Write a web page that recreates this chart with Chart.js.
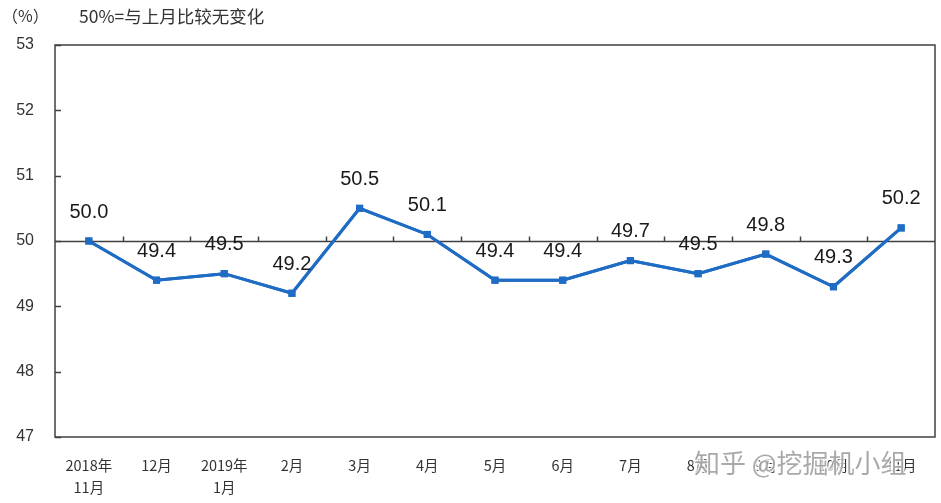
<!DOCTYPE html>
<html>
<head>
<meta charset="utf-8">
<script src="https://cdn.jsdelivr.net/npm/chart.js@4/dist/chart.umd.min.js"></script>
<style>
  html, body { margin: 0; padding: 0; background: #fff; }
</style>
</head>
<body>
<canvas id="pmiChart" width="941" height="503"></canvas>
<script>
// month labels, 2018-11 .. 2019-11
const monthLabels = [['2018年', '11月'], '12月', ['2019年', '1月'], '2月', '3月', '4月', '5月', '6月', '7月', '8月', '9月', '10月', '11月'];
const indexValues = [50.0, 49.4, 49.5, 49.2, 50.5, 50.1, 49.4, 49.4, 49.7, 49.5, 49.8, 49.3, 50.2];
const yMin = 47;
const yMax = 53;
const baseLine = 50;

const unitText = '（%）';
const noteText = '50%=与上月比较无变化';
const watermarkText = '知乎 @挖掘机小组';

const lineBlue = '#1f6cc4';
const axisGray = '#404040';

const decorPlugin = {
  id: 'decor',
  afterDatasetsDraw(chart) {
    const { ctx, chartArea, scales } = chart;
    const x = scales.x, y = scales.y;
    ctx.save();

    // plot frame
    ctx.strokeStyle = axisGray;
    ctx.lineWidth = 1.5;
    ctx.strokeRect(chartArea.left, chartArea.top, chartArea.right - chartArea.left, chartArea.bottom - chartArea.top);

    // y ticks pointing inward
    for (let v = yMin; v <= yMax; v++) {
      const py = Math.round(y.getPixelForValue(v)) + 0.5;
      ctx.beginPath();
      ctx.moveTo(chartArea.left, py);
      ctx.lineTo(chartArea.left + 6, py);
      ctx.stroke();
    }

    // 50 line with category ticks
    const by = Math.round(y.getPixelForValue(baseLine)) + 0.5;
    ctx.beginPath();
    ctx.moveTo(chartArea.left, by);
    ctx.lineTo(chartArea.right, by);
    ctx.stroke();
    const step = (chartArea.right - chartArea.left) / monthLabels.length;
    for (let i = 1; i < monthLabels.length; i++) {
      const px = Math.round(chartArea.left + step * i) + 0.5;
      ctx.beginPath();
      ctx.moveTo(px, by);
      ctx.lineTo(px, by - 5);
      ctx.stroke();
    }
    ctx.restore();

    // redraw line above the axis line
    chart.getDatasetMeta(0).controller.draw();

    // value labels
    ctx.save();
    ctx.font = '20px "Liberation Sans", Arial, sans-serif';
    ctx.fillStyle = '#1a1a1a';
    ctx.textAlign = 'center';
    ctx.textBaseline = 'middle';
    indexValues.forEach((v, i) => {
      const px = x.getPixelForValue(i);
      const py = y.getPixelForValue(v);
      ctx.fillText(v.toFixed(1), px, py - 29);
    });
    ctx.restore();

    // header texts
    ctx.save();
    ctx.fillStyle = '#333';
    ctx.textBaseline = 'middle';
    ctx.font = '16px "Noto Sans CJK SC", sans-serif';
    ctx.fillText(unitText, 2, 16);
    ctx.font = '17.5px "Noto Sans CJK SC", sans-serif';
    ctx.fillText(noteText, 79, 16);
    ctx.restore();

    // watermark
    ctx.save();
    ctx.font = '26px "Noto Sans CJK SC", sans-serif';
    ctx.textBaseline = 'middle';
    ctx.lineWidth = 3;
    ctx.strokeStyle = 'rgba(255,255,255,0.8)';
    ctx.strokeText(watermarkText, 694, 463);
    ctx.fillStyle = 'rgba(140,140,140,0.75)';
    ctx.fillText(watermarkText, 694, 463);
    ctx.restore();
  }
};

new Chart(document.getElementById('pmiChart'), {
  type: 'line',
  data: {
    labels: monthLabels,
    datasets: [{
      data: indexValues,
      borderColor: lineBlue,
      backgroundColor: lineBlue,
      borderWidth: 3,
      pointStyle: 'rect',
      pointRadius: 5,
      pointBorderWidth: 0,
      tension: 0
    }]
  },
  options: {
    responsive: false,
    animation: false,
    devicePixelRatio: 1,
    layout: { padding: { top: 45, right: 6, bottom: 0, left: 0 } },
    plugins: {
      legend: { display: false },
      tooltip: { enabled: false }
    },
    scales: {
      x: {
        offset: true,
        grid: { display: false, drawTicks: false },
        border: { display: false },
        afterFit(scale) { scale.height = 66; },
        ticks: {
          color: '#333',
          padding: 18,
          maxRotation: 0,
          autoSkip: false,
          font: { family: '"Noto Sans CJK SC", sans-serif', size: 14.5, lineHeight: 1.5 }
        }
      },
      y: {
        min: yMin,
        max: yMax,
        grid: { display: false, drawTicks: false },
        border: { display: false },
        afterFit(scale) { scale.width = 55; },
        ticks: {
          stepSize: 1,
          color: '#333',
          padding: 21,
          font: { family: '"Liberation Sans", Arial, sans-serif', size: 16 }
        }
      }
    }
  },
  plugins: [decorPlugin]
});
</script>
</body>
</html>
